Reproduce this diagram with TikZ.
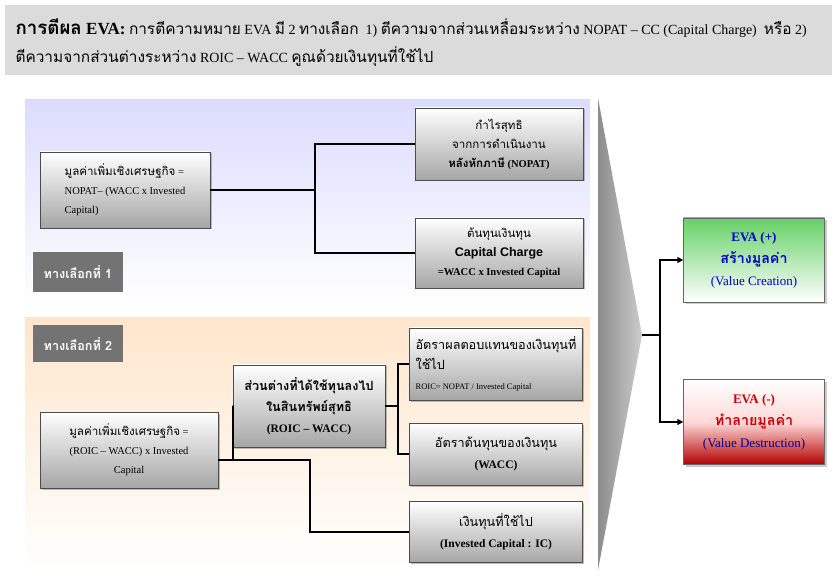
\documentclass[tikz,border=0pt]{standalone}
\usepackage{fontspec}
\setmainfont{Liberation Serif}
\newfontfamily\thai[Script=Thai,Scale=1.1]{Loma}
\usetikzlibrary{shadows,arrows.meta,calc}
\newcommand{\T}[1]{{\thai #1}}
\tikzset{
 bx/.style={draw=black!70,line width=0.6pt,top color=white,bottom color=black!35,drop shadow={shadow xshift=1.5pt,shadow yshift=-1.5pt,opacity=0.5},align=center,font=\fontsize{10.5}{19}\selectfont,inner sep=2pt},
 lab/.style={fill=black!55,text=white,font=\thai\fontsize{11.5}{13}\selectfont\bfseries,align=center},
 ln/.style={line width=1.6pt},
 ar/.style={line width=1.6pt,-{Triangle[length=6pt,width=6pt]}}
}
\begin{document}
\begin{tikzpicture}[x=1pt,y=-1pt]
\useasboundingbox (0,0) rectangle (839,580);
\fill[black!14] (5,5) rectangle (832,75);
\node[anchor=west,font=\fontsize{14}{16}\selectfont] (h1) at (12,28) {{\fontsize{17}{18}\selectfont\textbf{\T{การตีผล} EVA:}} \T{การตีความหมาย} EVA \T{มี} 2 \T{ทางเลือก}\ \ 1) \T{ตีความจากส่วนเหลื่อมระหว่าง} NOPAT -- CC (Capital Charge)\ \ \T{หรือ}\ 2)};
\node[anchor=west,font=\fontsize{14}{16}\selectfont] (h2) at (12,57) {\T{ตีความจากส่วนต่างระหว่าง} ROIC -- WACC \T{คูณด้วยเงินทุนที่ใช้ไป}};
\shade[top color=blue!14,bottom color=white] (25,100) rectangle (590,305);
\shade[top color=orange!20,bottom color=white] (25,318) rectangle (590,570);
\shade[left color=black!45,right color=black!20] (598,98) -- (642,335) -- (598,570) -- cycle;
\coordinate (tip) at (642,335);
\node[bx,minimum width=170,minimum height=76,align=left] (A) at (125,190) {\T{มูลค่าเพิ่มเชิงเศรษฐกิจ} =\\ NOPAT-- (WACC x Invested\\ Capital)};
\node[bx,minimum width=168,minimum height=72] (N) at (499,144) {\T{กำไรสุทธิ}\\ \T{จากการดำเนินงาน}\\ \textbf{\T{หลังหักภาษี} (NOPAT)}};
\node[bx,minimum width=168,minimum height=70] (C) at (499,253) {\T{ต้นทุนเงินทุน}\\ {\fontsize{12.5}{13}\selectfont\fontspec{Liberation Sans}\bfseries Capital Charge}\\ \textbf{=WACC x Invested Capital}};
\node[lab,minimum width=90,minimum height=40] (L1) at (78,272) {ทางเลือกที่ 1};
\node[lab,minimum width=90,minimum height=37] (L2) at (78,344) {ทางเลือกที่ 2};
\node[bx,minimum width=178,minimum height=76] (B) at (129,450) {\T{มูลค่าเพิ่มเชิงเศรษฐกิจ} =\\ (ROIC -- WACC) x Invested\\ Capital};
\node[bx,minimum width=152,minimum height=82,font=\fontsize{11.5}{21}\selectfont\bfseries] (M) at (309,406) {\T{ส่วนต่างที่ได้ใช้ทุนลงไป}\\ \T{ในสินทรัพย์สุทธิ}\\ (ROIC -- WACC)};
\node[bx,minimum width=173,minimum height=72,align=left,font=\fontsize{11.5}{20}\selectfont] (R) at (496,364) {\T{อัตราผลตอบแทนของเงินทุนที่}\\ \T{ใช้ไป}\\ {\fontsize{8.5}{10}\selectfont ROIC= NOPAT / Invested Capital}};
\node[bx,minimum width=173,minimum height=62,font=\fontsize{11.5}{21}\selectfont] (W) at (496,454) {\T{อัตราต้นทุนของเงินทุน}\\ \textbf{(WACC)}};
\node[bx,minimum width=173,minimum height=61,font=\fontsize{11.5}{21}\selectfont] (I) at (496,532) {\T{เงินทุนที่ใช้ไป}\\ \textbf{(Invested Capital : IC)}};
\node[draw=black!60,top color=green!70!black!60,bottom color=white,minimum width=141,minimum height=84,align=center,font=\fontsize{13}{22}\selectfont,drop shadow={opacity=0.4}] (P) at (754,260) {\textcolor{blue!80!black}{\textbf{EVA (+)}}\\ \textcolor{blue!80!black}{\textbf{\T{สร้างมูลค่า}}}\\ \textcolor{blue!80!black}{(Value Creation)}};
\node[draw=black!60,top color=white,bottom color=red!70!black,middle color=red!15,minimum width=141,minimum height=85,align=center,font=\fontsize{13}{22}\selectfont,drop shadow={opacity=0.4}] (Q) at (754,422) {\textcolor{red!80!black}{\textbf{EVA (-)}}\\ \textcolor{red!80!black}{\textbf{\T{ทำลายมูลค่า}}}\\ \textcolor{blue!60!black}{(Value Destruction)}};
% connectors
\draw[ln] (A.east) -- (315,190) coordinate (j1);
\draw[ln] (N.west) -| (j1) |- (C.west);
\coordinate (be) at ($(B.east)+(0,10)$);
\draw[ln] (be) -- (233,460) |- (M.west);
\draw[ln] (be) -- (310,460) |- (I.west);
\draw[ln] (M.east) -- (398,406) coordinate (j2);
\draw[ln] (R.west) -| (j2) |- (W.west);
\draw[ln] (tip) -- (660,335) coordinate (j3);
\draw[ar] (j3) |- (P.west);
\draw[ar] (j3) |- (Q.west);
\end{tikzpicture}
\end{document}
